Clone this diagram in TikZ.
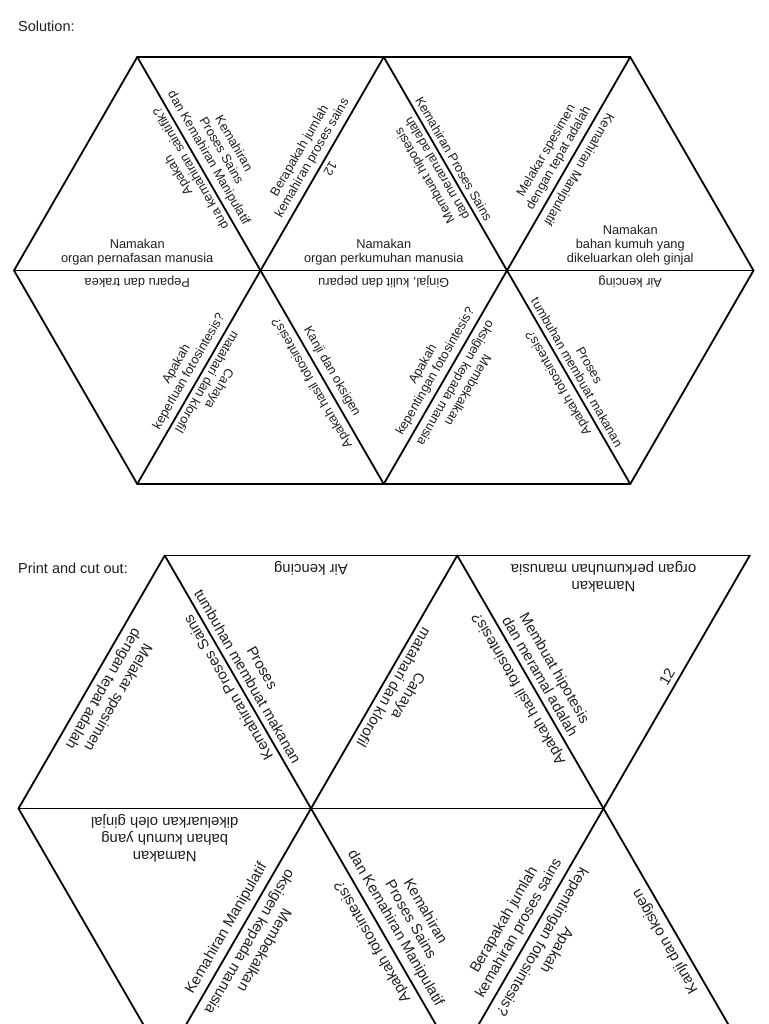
\documentclass[tikz,border=0pt]{standalone}
\usepackage{fontspec}
\setmainfont{Liberation Sans}
\usetikzlibrary{calc}
\begin{document}
\begin{tikzpicture}[x=1pt,y=-1pt,
  edge/.style={line width=1.8pt, line join=round, line cap=round},
  lab/.style={anchor=south, align=center, inner sep=5.2pt, outer sep=0pt, text=black!88,
    font=\fontsize{12.8}{14.3}\selectfont},
  labB/.style={lab, inner sep=6pt, font=\fontsize{14.9}{17}\selectfont},
  title/.style={anchor=base west, inner sep=0pt, text=black!88, font=\fontsize{14.5}{17}\selectfont}]
\useasboundingbox (0,0) rectangle (768,1024);
\clip (0,0) rectangle (768,1024);

% ---------- Solution hexagon ----------
\node[title] (sol) at (18,31.5) {Solution:};
\coordinate (a1) at (137.25,57);
\coordinate (a2) at (383.75,57);
\coordinate (a3) at (630.25,57);
\coordinate (b0) at (14,270.5);
\coordinate (b1) at (260.5,270.5);
\coordinate (b2) at (507,270.5);
\coordinate (b3) at (753.5,270.5);
\coordinate (c1) at (137.25,484);
\coordinate (c2) at (383.75,484);
\coordinate (c3) at (630.25,484);

\draw[edge] (a1) -- (a3);
\draw[edge] (b0) -- (b3);
\draw[edge] (c1) -- (c3);
\draw[edge] (a1) -- (b0) -- (c1);
\draw[edge] (a3) -- (b3) -- (c3);
\draw[edge] (a1) -- (c2);
\draw[edge] (a2) -- (c1);
\draw[edge] (a2) -- (c3);
\draw[edge] (a3) -- (c2);

\node[lab, rotate=0]   (sA1) at ($(b0)!0.5!(b1)$) {Namakan\\organ pernafasan manusia};
\node[lab, rotate=120] (sA2) at ($(a1)!0.5!(b1)$) {Apakah\\dua kemahiran saintifik?};
\node[lab, rotate=-60] (sB1) at ($(a1)!0.5!(b1)$) {Kemahiran\\Proses Sains\\dan Kemahiran Manipulatif};
\node[lab, rotate=60]  (sB2) at ($(a2)!0.5!(b1)$) {Berapakah jumlah\\kemahiran proses sains};
\node[lab, rotate=240] (sC1) at ($(a2)!0.5!(b1)$) {12};
\node[lab, rotate=0]   (sC2) at ($(b1)!0.5!(b2)$) {Namakan\\organ perkumuhan manusia};
\node[lab, rotate=120] (sC3) at ($(a2)!0.5!(b2)$) {Membuat hipotesis\\dan meramal adalah};
\node[lab, rotate=-60] (sD1) at ($(a2)!0.5!(b2)$) {Kemahiran Proses Sains};
\node[lab, rotate=60]  (sD2) at ($(a3)!0.5!(b2)$) {Melakar spesimen\\dengan tepat adalah};
\node[lab, rotate=240] (sE1) at ($(a3)!0.5!(b2)$) {Kemahiran Manipulatif};
\node[lab, rotate=0]   (sE2) at ($(b2)!0.5!(b3)$) {Namakan\\bahan kumuh yang\\dikeluarkan oleh ginjal};
\node[lab, rotate=180] (sF1) at ($(b0)!0.5!(b1)$) {Peparu dan trakea};
\node[lab, rotate=60]  (sF2) at ($(b1)!0.5!(c1)$) {Apakah\\keperluan fotosintesis?};
\node[lab, rotate=240] (sG1) at ($(b1)!0.5!(c1)$) {Cahaya\\matahari dan klorofil};
\node[lab, rotate=120] (sG2) at ($(b1)!0.5!(c2)$) {Apakah hasil fotosintesis?};
\node[lab, rotate=180] (sH1) at ($(b1)!0.5!(b2)$) {Ginjal, kulit dan peparu};
\node[lab, rotate=-60] (sH2) at ($(b1)!0.5!(c2)$) {Kanji dan oksigen};
\node[lab, rotate=60]  (sH3) at ($(b2)!0.5!(c2)$) {Apakah\\kepentingan fotosintesis?};
\node[lab, rotate=240] (sI1) at ($(b2)!0.5!(c2)$) {Membekalkan\\oksigen kepada manusia};
\node[lab, rotate=120] (sI2) at ($(b2)!0.5!(c3)$) {Apakah fotosintesis?};
\node[lab, rotate=180] (sJ1) at ($(b2)!0.5!(b3)$) {Air kencing};
\node[lab, rotate=-60] (sJ2) at ($(b2)!0.5!(c3)$) {Proses\\tumbuhan membuat makanan};

% ---------- Print and cut out ----------
\node[title] (pco) at (18,573) {Print and cut out:};
\coordinate (p1) at (164.75,555.5);
\coordinate (p2) at (457.25,555.5);
\coordinate (p3) at (749.75,555.5);
\coordinate (q0) at (18.5,808.5);
\coordinate (q1) at (311,808.5);
\coordinate (q2) at (603.5,808.5);
\coordinate (r0) at (164.75,1061.5);
\coordinate (r1) at (457.25,1061.5);
\coordinate (r2) at (749.75,1061.5);

\draw[edge] (p1) -- (p3);
\draw[edge] (q0) -- (q2);
\draw[edge] (p1) -- (q0) -- (r0);
\draw[edge] (p1) -- (r1);
\draw[edge] (p2) -- (r0);
\draw[edge] (p2) -- (r2);
\draw[edge] (p3) -- (r1);

\node[labB, rotate=240] (t11) at ($(p1)!0.5!(q0)$) {Melakar spesimen\\dengan tepat adalah};
\node[labB, rotate=120] (t12) at ($(p1)!0.5!(q1)$) {Kemahiran Proses Sains};
\node[labB, rotate=180] (t21) at ($(p1)!0.5!(p2)$) {Air kencing};
\node[labB, rotate=-60] (t22) at ($(p1)!0.5!(q1)$) {Proses\\tumbuhan membuat makanan};
\node[labB, rotate=240] (t31) at ($(p2)!0.5!(q1)$) {Cahaya\\matahari dan klorofil};
\node[labB, rotate=120] (t32) at ($(p2)!0.5!(q2)$) {Apakah hasil fotosintesis?};
\node[labB, rotate=180] (t41) at ($(p2)!0.5!(p3)$) {Namakan\\organ perkumuhan manusia};
\node[labB, rotate=-60] (t42) at ($(p2)!0.5!(q2)$) {Membuat hipotesis\\dan meramal adalah};
\node[labB, rotate=60]  (t43) at ($(p3)!0.5!(q2)$) {12};
\node[labB, rotate=180] (t51) at ($(q0)!0.5!(q1)$) {Namakan\\bahan kumuh yang\\dikeluarkan oleh ginjal};
\node[labB, rotate=60]  (t52) at ($(q1)!0.5!(r0)$) {Kemahiran Manipulatif};
\node[labB, rotate=240] (t61) at ($(q1)!0.5!(r0)$) {Membekalkan\\oksigen kepada manusia};
\node[labB, rotate=120] (t62) at ($(q1)!0.5!(r1)$) {Apakah fotosintesis?};
\node[labB, rotate=-60] (t71) at ($(q1)!0.5!(r1)$) {Kemahiran\\Proses Sains\\dan Kemahiran Manipulatif};
\node[labB, rotate=60]  (t72) at ($(q2)!0.5!(r1)$) {Berapakah jumlah\\kemahiran proses sains};
\node[labB, rotate=240] (t81) at ($(q2)!0.5!(r1)$) {Apakah\\kepentingan fotosintesis?};
\node[labB, rotate=120] (t82) at ($(q2)!0.5!(r2)$) {Kanji dan oksigen};
\end{tikzpicture}
\end{document}
